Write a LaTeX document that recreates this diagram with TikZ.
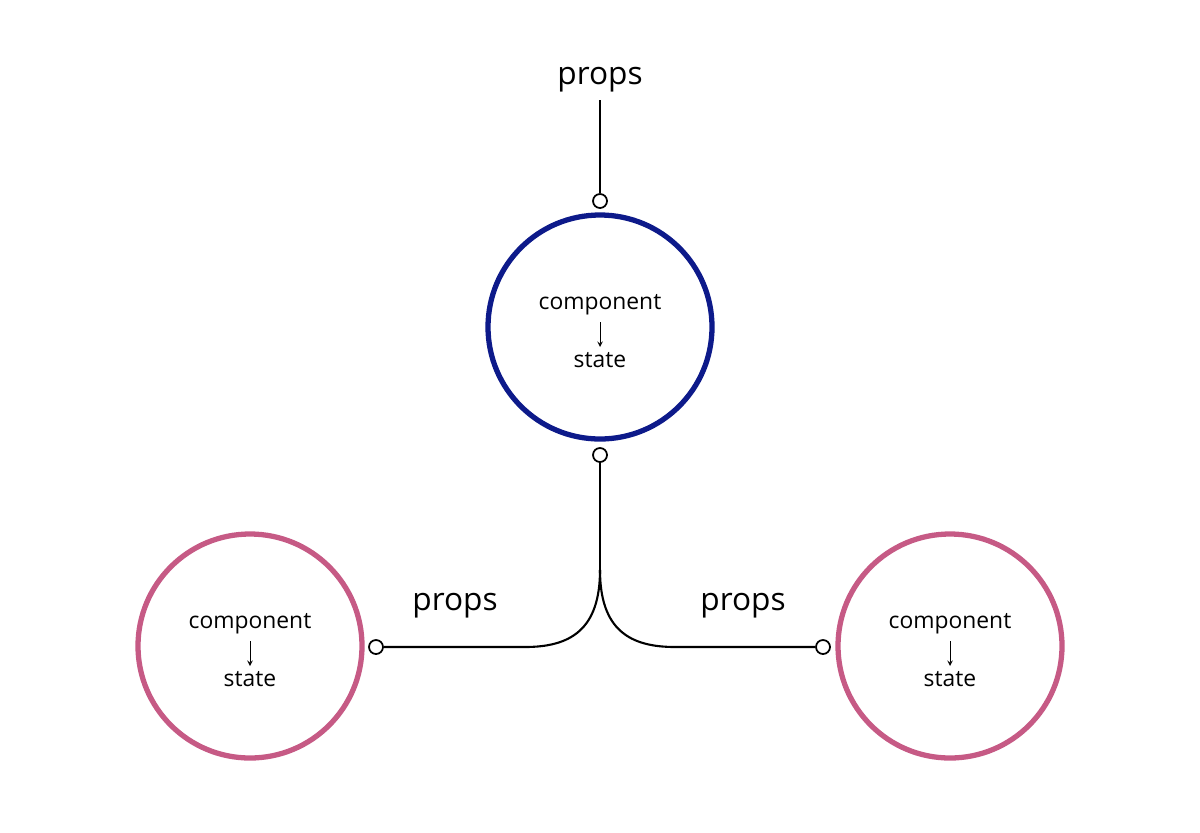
\documentclass[tikz,border=0pt]{standalone}
\usepackage{fontspec}
\setmainfont{Open Sans}
\definecolor{topblue}{HTML}{0D1A8A}
\definecolor{pinkc}{HTML}{C65A85}
\begin{document}
\begin{tikzpicture}[x=0.02cm,y=-0.02cm,
  big/.style={circle,minimum size=224*0.02cm,line width=3pt,inner sep=0},
  port/.style={circle,draw,line width=1pt,minimum size=14*0.02cm,inner sep=0,fill=white},
  lbl/.style={font=\fontsize{18}{21}\selectfont},
  inn/.style={font=\fontsize{13}{15}\selectfont},
  wire/.style={line width=1.2pt}]
\useasboundingbox (0,0) rectangle (1200,832);
\node[big,draw=topblue] (top) at (600,327) {};
\node[big,draw=pinkc] (bl) at (250,646) {};
\node[big,draw=pinkc] (br) at (950,646) {};
\node[inn] (tc) at (600,305) {component};
\node[inn] (ts) at (600,360) {state};
\draw[-stealth,line width=0.4pt] (600,322) -- (600,347);
\node[inn] (lc) at (250,624) {component};
\node[inn] (ls) at (250,679) {state};
\draw[-stealth,line width=0.4pt] (250,641) -- (250,666);
\node[inn] (rc) at (950,624) {component};
\node[inn] (rs) at (950,679) {state};
\draw[-stealth,line width=0.4pt] (950,641) -- (950,666);
\node[lbl] (ptop) at (600,80) {props};
\node[lbl] (pl) at (455,606) {props};
\node[lbl] (pr) at (743,606) {props};
\node[port] (p1) at (600,201) {};
\node[port] (p2) at (600,455) {};
\node[port] (p3) at (376,647) {};
\node[port] (p4) at (823,647) {};
\coordinate (j) at (600,570);
\draw[wire] (600,100) -- (p1);
\draw[wire] (p2) -- (j);
\draw[wire] (j) .. controls (600,630) and (570,647) .. (525,647) -- (p3);
\draw[wire] (j) .. controls (600,630) and (630,647) .. (675,647) -- (p4);
\end{tikzpicture}
\end{document}
